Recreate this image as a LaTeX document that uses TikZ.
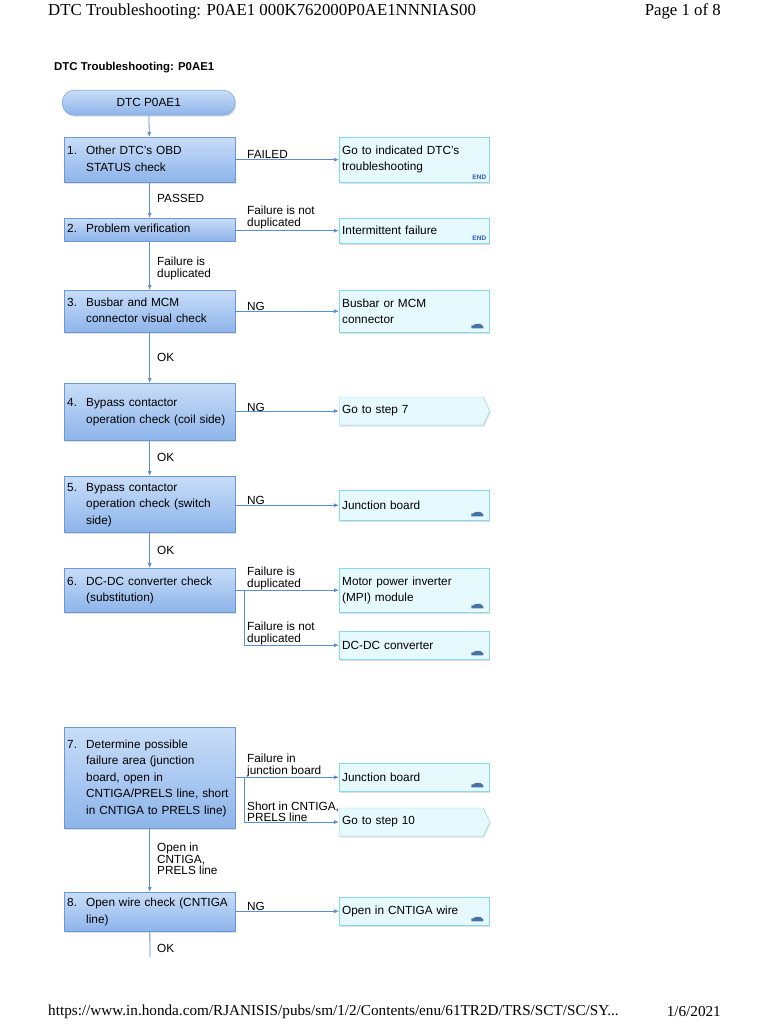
\documentclass[tikz,border=0pt]{standalone}
\usepackage{fontspec}
\setmainfont{Liberation Sans}
\newfontfamily\serifhdr{Liberation Serif}
\usetikzlibrary{shapes.symbols,shadows,arrows.meta}
\definecolor{lnc}{HTML}{5B8FD0}
\definecolor{sbT}{HTML}{C8DDF8}
\definecolor{sbB}{HTML}{8DB4EA}
\definecolor{sbD}{HTML}{6C98D4}
\definecolor{rbF}{HTML}{E6FAFD}
\definecolor{rbD}{HTML}{86D8EC}
\definecolor{endc}{HTML}{2A55D0}
\tikzset{
 stepbox/.style={draw=sbD, top color=sbT, bottom color=sbB, anchor=north west, minimum width=171pt, inner sep=3pt, text width=165pt, align=left, font=\fontsize{11.8}{16.5}\selectfont, drop shadow={opacity=0.25,shadow xshift=1pt,shadow yshift=-1.5pt}},
 resbox/.style={draw=rbD, fill=rbF, anchor=north west, minimum width=150pt, inner sep=3pt, text width=144pt, align=left, font=\fontsize{11.8}{16.5}\selectfont, drop shadow={opacity=0.25,shadow xshift=1pt,shadow yshift=-1.5pt}},
 gobox/.style={draw=rbD, fill=rbF, signal, signal to=east, signal pointer angle=130, anchor=west, minimum width=150pt, minimum height=28pt, inner sep=3pt, text width=138pt, align=left, font=\fontsize{11.8}{16.5}\selectfont, drop shadow={opacity=0.25,shadow xshift=1pt,shadow yshift=-1.5pt}},
 conn/.style={draw=lnc, line width=0.8pt, -{Latex[length=5pt,width=4pt]}},
 plain/.style={draw=lnc, line width=0.8pt},
 lbl/.style={font=\fontsize{11.8}{11.5}\selectfont, align=left, anchor=south west, inner sep=1pt},
}
\newcommand{\stp}[2]{\begin{tabular}{@{}p{19pt}@{}l@{}}#1&\begin{tabular}[t]{@{}l@{}}#2\end{tabular}\end{tabular}}
\newcommand{\fmark}[1]{\node[font=\fontsize{6.5}{7}\selectfont\bfseries, text=endc, anchor=south east, inner sep=3pt] at (#1.south east) {END};}
\newcommand{\car}[1]{\fill[lnc!80!black] ([xshift=-18pt,yshift=4pt]#1.south east) -- ++(12pt,0) -- ++(0,2pt) -- ++(-3pt,2.5pt) -- ++(-5pt,0) -- ++(-2pt,-1.5pt) -- ++(-2pt,0) -- cycle;}
\begin{document}
\begin{tikzpicture}[x=1pt,y=-1pt]
\useasboundingbox (0,0) rectangle (768,1024);
\fill[white] (0,0) rectangle (768,1024);
\node[anchor=west, font=\serifhdr\fontsize{16.8}{17}\selectfont, inner sep=0] (hd) at (48,11) {DTC Troubleshooting: P0AE1 000K762000P0AE1NNNIAS00};
\node[anchor=east, font=\serifhdr\fontsize{16.8}{17}\selectfont, inner sep=0] (pg) at (721,11) {Page 1 of 8};
\node[anchor=west, font=\serifhdr\fontsize{15.2}{16}\selectfont, inner sep=0] (ft) at (48,1012) {https://www.in.honda.com/RJANISIS/pubs/sm/1/2/Contents/enu/61TR2D/TRS/SCT/SC/SY...};
\node[anchor=east, font=\serifhdr\fontsize{15.2}{16}\selectfont, inner sep=0] (dt) at (721,1012) {1/6/2021};
\node[anchor=west, font=\fontsize{11.4}{12}\selectfont\bfseries, inner sep=0] (ttl) at (54,68) {DTC Troubleshooting: P0AE1};

\node[draw=sbD, top color=sbT, bottom color=sbB, rounded corners=12pt, anchor=north west, minimum width=173pt, minimum height=25pt, font=\fontsize{11.8}{14}\selectfont, drop shadow={opacity=0.25,shadow xshift=1pt,shadow yshift=-1.5pt}] (s0) at (62,90) {DTC P0AE1};

\node[stepbox, minimum height=45pt] (s1) at (64,137) {\stp{1.}{Other DTC's OBD\\STATUS check}};
\node[stepbox, minimum height=22pt] (s2) at (64,218) {\stp{2.}{Problem verification}};
\node[stepbox, minimum height=42pt] (s3) at (64,290) {\stp{3.}{Busbar and MCM\\connector visual check}};
\node[stepbox, minimum height=57pt] (s4) at (64,383) {\stp{4.}{Bypass contactor\\operation check (coil side)}};
\node[stepbox, minimum height=56pt] (s5) at (64,476) {\stp{5.}{Bypass contactor\\operation check (switch\\side)}};
\node[stepbox, minimum height=44pt] (s6) at (64,568) {\stp{6.}{DC-DC converter check\\(substitution)}};
\node[stepbox, minimum height=101pt] (s7) at (64,727) {\stp{7.}{Determine possible\\failure area (junction\\board, open in\\CNTIGA/PRELS line, short\\in CNTIGA to PRELS line)}};
\node[stepbox, minimum height=36pt] (s8) at (64,892) {\stp{8.}{Open wire check (CNTIGA\\line)}};

\node[resbox, minimum height=45pt] (r1) at (339,137) {Go to indicated DTC's\\troubleshooting\\[-4pt]};
\node[resbox, minimum height=25pt] (r2) at (339,218) {Intermittent failure};
\node[resbox, minimum height=42pt] (r3) at (339,290) {Busbar or MCM\\connector};
\node[gobox] (r4) at (339,411) {Go to step 7};
\node[resbox, minimum height=30pt] (r5) at (339,490) {Junction board};
\node[resbox, minimum height=44pt] (r6) at (339,568) {Motor power inverter\\(MPI) module};
\node[resbox, minimum height=28pt] (r7) at (339,631) {DC-DC converter};
\node[resbox, minimum height=28pt] (r8) at (339,763) {Junction board};
\node[gobox] (r9) at (339,822) {Go to step 10};
\node[resbox, minimum height=28pt] (r10) at (339,897) {Open in CNTIGA wire};
\fmark{r1}\fmark{r2}
\car{r3}\car{r5}\car{r6}\car{r7}\car{r8}\car{r10}

\coordinate (okend) at (150,957);
\draw[conn] (s0) -- (s1);
\draw[conn] (s1) -- (s2);
\draw[conn] (s2) -- (s3);
\draw[conn] (s3) -- (s4);
\draw[conn] (s4) -- (s5);
\draw[conn] (s5) -- (s6);
\draw[conn] (s7) -- (s8);
\draw[plain] (s8) -- (okend);

\draw[conn] (s1.east |- r1.west) -- (r1.west);
\draw[conn] (s2.east |- r2.west) -- (r2.west);
\draw[conn] (s3.east |- r3.west) -- (r3.west);
\draw[conn] (s4.east |- r4.west) -- (r4.west);
\draw[conn] (s5.east |- r5.west) -- (r5.west);
\draw[conn] (s6.east |- r6.west) -- (r6.west);
\draw[conn] (244,590) |- (r7.west);
\draw[conn] (s7.east |- r8.west) -- (r8.west);
\draw[conn] (244,777) |- (r9.west);
\draw[conn] (s8.east |- r10.west) -- (r10.west);

\node[lbl] (l1) at (246,160) {FAILED};
\node[lbl, anchor=north west] (l1b) at (156,193) {PASSED};
\node[lbl] (l2) at (246,230) {Failure is not\\duplicated};
\node[lbl, anchor=north west] (l2b) at (156,256) {Failure is\\duplicated};
\node[lbl] (l3) at (246,312) {NG};
\node[lbl, anchor=north west] (l3b) at (156,352) {OK};
\node[lbl] (l4) at (246,413) {NG};
\node[lbl, anchor=north west] (l4b) at (156,452) {OK};
\node[lbl] (l5) at (246,506) {NG};
\node[lbl, anchor=north west] (l5b) at (156,545) {OK};
\node[lbl] (l6) at (246,591) {Failure is\\duplicated};
\node[lbl] (l7) at (246,646) {Failure is not\\duplicated};
\node[lbl] (l8) at (246,778) {Failure in\\junction board};
\node[lbl] (l9) at (246,823) {Short in CNTIGA,\\PRELS line};
\node[lbl, anchor=north west] (l9b) at (156,842) {Open in\\CNTIGA,\\PRELS line};
\node[lbl] (l10) at (246,912) {NG};
\node[lbl, anchor=north west] (l10b) at (156,943) {OK};
\end{tikzpicture}
\end{document}
